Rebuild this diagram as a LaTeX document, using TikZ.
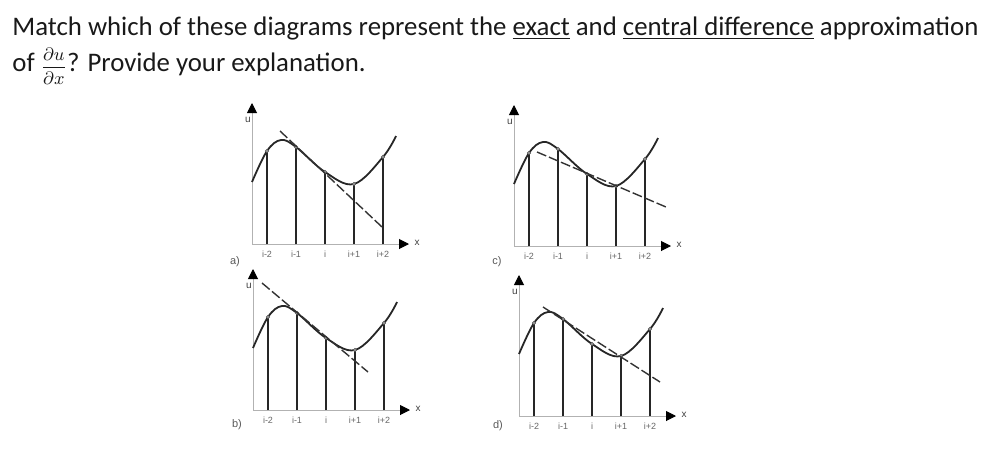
\documentclass[tikz,border=0pt]{standalone}
\usepackage{fontspec}
\setmainfont{Carlito}
\newfontfamily\labelfont{Liberation Sans}
\usetikzlibrary{arrows.meta}
\tikzset{
  axisline/.style={draw=gray!60, line width=0.5pt, -{Triangle[length=5pt,width=5pt,color=black]}},
  ordinate/.style={line width=0.9pt, draw=black!85},
  fcurve/.style={line width=0.9pt, draw=black!85},
  tangent/.style={line width=0.7pt, draw=black!80, dash pattern=on 5pt off 1.5pt},
  marker/.style={draw=black!70, fill=gray!40, line width=0.3pt},
  ticklabel/.style={font=\labelfont\fontsize{4.5}{5}\selectfont, text=black!60, inner sep=0pt},
  axislabel/.style={font=\labelfont\fontsize{5}{6}\selectfont, text=black!75, inner sep=0pt},
  panellabel/.style={font=\labelfont\fontsize{5.5}{6}\selectfont, text=black!65, inner sep=0pt},
  question/.style={font=\fontsize{13.4}{15}\selectfont, text=black!90, inner sep=0pt, anchor=base west}
}
\begin{document}
\begin{tikzpicture}[x=0.5pt,y=-0.5pt]
\useasboundingbox (0,0) rectangle (1007,450);

% one panel: origin x, origin y, ends of the dashed line
\newcommand{\curvebox}[4]{
  \begin{scope}[shift={(#1,#2)}]
    \coordinate (orig) at (0,0);
    \draw[axisline] (orig) -- (0,-141);
    \draw[axisline] (orig) -- (157,0);
    \node[axislabel] (ulab) at (-4,-124) {u};
    \node[axislabel] (xlab) at (165,-1) {x};
    % ordinates at the grid points
    \foreach \px/\py/\lab in {15/-93/i-2, 44/-97/i-1, 73/-72/i, 102/-60/i+1, 131/-87/i+2} {
      \draw[ordinate] (\px,0) -- (\px,\py);
      \node[ticklabel] (tick\px) at (\px,10) {\lab};
    }
    \draw[fcurve] plot[smooth, tension=0.6] coordinates {(0,-62) (15,-93) (29,-104) (44,-97) (73,-72) (102,-60) (131,-87) (144,-108)};
    \foreach \px/\py in {15/-93, 44/-97, 73/-72, 102/-60, 131/-87}
      \draw[marker] (\px,\py) circle[radius=0.8pt];
    \draw[tangent] #3 -- #4;
  \end{scope}
}

% question text
\node[question] (line1) at (12,35) {Match which of these diagrams represent the \underline{exact} and \underline{central difference} approximation};
\node[question] (line2) at (12,71) {of \raisebox{-0.5pt}{\fontsize{9.5}{10}\selectfont$\displaystyle\frac{\partial u}{\partial x}$}? Provide your explanation.};

% the four panels
\curvebox{252}{244}{(28,-113)}{(130,-17)}
\curvebox{253}{410}{(9,-127)}{(115,-38)}
\curvebox{514}{246}{(23,-94)}{(152,-39)}
\curvebox{519}{416}{(24,-109)}{(141,-34)}

\node[panellabel] (pa) at (235,262) {a)};
\node[panellabel] (pb) at (237,425) {b)};
\node[panellabel] (pc) at (497,262) {c)};
\node[panellabel] (pd) at (498,426) {d)};
\end{tikzpicture}
\end{document}
